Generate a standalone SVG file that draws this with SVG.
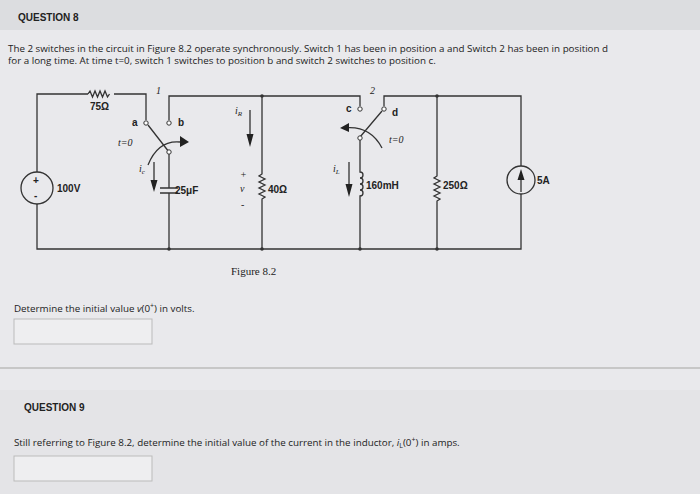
<svg xmlns="http://www.w3.org/2000/svg" width="700" height="494" viewBox="0 0 700 494">
<style>
.w{stroke:#333;stroke-width:1.3;fill:none}
.t{font-family:"Open Sans","Liberation Sans",sans-serif;font-size:9.8px;fill:#222}
.b{font-family:"Liberation Sans",sans-serif;font-size:10px;font-weight:bold;fill:#222}
.s{font-family:"Liberation Serif",serif;font-size:10px;font-style:italic;fill:#222}
.d{fill:#333}
.o{fill:#fff;stroke:#333;stroke-width:1}
.h{fill:#222}
</style>
<rect width="700" height="494" fill="#e9e9ec"/>
<rect x="0" y="0" width="700" height="30" fill="#dcdde0"/>
<text x="18" y="21" class="b" font-size="11">QUESTION 8</text>
<text x="8" y="52" class="t">The 2 switches in the circuit in Figure 8.2 operate synchronously.  Switch 1 has been in position a and Switch 2 has been in position d</text>
<text x="8" y="64" class="t">for a long time.  At time t=0, switch 1 switches to position b and switch 2 switches to position c.</text>
<g id="connectors">
<path class="w" d="M37,172 V94 H88 M114,94 H146 V120 M169,120 V96 H360 V106 M384,106 V96 H521 V166 M521,194 V249 H37 V204"/>
<path class="w" d="M88,94 l2,-3 l2.5,6 l2.5,-6 l2.5,6 l2.5,-6 l2.5,6 l2.5,-6 l2.5,6 l2,-3"/>
<path class="w" d="M169,154 V188 M169,193 V249 M160,188 H178 M160,193 H178"/>
<path class="w" d="M262,96 V174 l-3,2 l6,3 l-6,3 l6,3 l-6,3 l6,3 l-6,3 l6,3 l-3,2 V249"/>
<path class="w" d="M437,96 V176 l-3,2 l6,3 l-6,3 l6,3 l-6,3 l6,3 l-6,3 l6,3 l-3,2 V249"/>
<path class="w" d="M360,140 V172 a3,3 0 0 1 0,6 a3,3 0 0 1 0,6 a3,3 0 0 1 0,6 a3,3 0 0 1 0,6 V249"/>
<path class="w" d="M169,152 L148,125 M360,137 L382,111"/>
<path class="w" d="M148,165 Q158,140 180,142 M344,128 Q370,125 382,148"/>
<path d="M180,136 l9,6 l-9,5z M349,123 l-9,5 l9,4z" class="h"/>
<path class="w" d="M154,162 V182 M250,110 V136 M349,162 V186 M521,192 V178"/>
<path class="h" d="M150.5,180 h7 l-3.5,12z M246.5,134 h7 l-3.5,13z M345.5,184 h7 l-3.5,13z M517.5,180 h7 l-3.5,-11z"/>
</g>
<g id="nodes">
<g id="src100"><circle cx="37" cy="188" r="16" class="w" fill="#fff"/><text x="33" y="184" class="b" font-size="8">+</text><text x="34" y="199" class="b" font-size="8">-</text></g>
<g id="src5"><circle cx="521" cy="180" r="14" class="w"/></g>
<circle class="o" cx="146" cy="123" r="2.2"/><circle class="o" cx="169" cy="123" r="2.2"/><circle class="o" cx="169" cy="152" r="2.2"/>
<circle class="o" cx="360" cy="109" r="2.2"/><circle class="o" cx="384" cy="109" r="2.2"/><circle class="o" cx="360" cy="138" r="2.2"/>
<circle class="d" cx="262" cy="96" r="1.8"/><circle class="d" cx="437" cy="96" r="1.8"/><circle class="d" cx="262" cy="249" r="1.8"/><circle class="d" cx="437" cy="249" r="1.8"/><circle class="d" cx="169" cy="249" r="1.8"/><circle class="d" cx="360" cy="249" r="1.8"/>
</g>
<g id="labels">
<text x="90" y="110" class="b">75Ω</text>
<text x="156" y="94" class="s" font-style="normal">1</text>
<text x="370" y="94" class="s" font-style="normal">2</text>
<text x="132" y="126" class="b" font-family="Liberation Serif">a</text>
<text x="178" y="126" class="b">b</text>
<text x="118" y="146" class="s">t=0</text>
<text x="139" y="172" class="s">i<tspan font-size="7" dy="2">c</tspan></text>
<text x="235" y="114" class="s">i<tspan font-size="7" dy="2">R</tspan></text>
<text x="57" y="192" class="b">100V</text>
<text x="175" y="194" class="b">25μF</text>
<text x="240" y="178" class="s" font-style="normal">+</text>
<text x="240" y="192" class="s">v</text>
<text x="241" y="208" class="s" font-style="normal">-</text>
<text x="268" y="193" class="b">40Ω</text>
<text x="346" y="112" class="b" font-family="Liberation Serif">c</text>
<text x="392" y="116" class="b">d</text>
<text x="389" y="143" class="s">t=0</text>
<text x="333" y="172" class="s">i<tspan font-size="7" dy="2">L</tspan></text>
<text x="366" y="189" class="b">160mH</text>
<text x="443" y="189" class="b">250Ω</text>
<text x="537" y="184" class="b">5A</text>
<text x="231" y="275" font-family="Liberation Serif" font-size="11" fill="#222">Figure 8.2</text>
</g>
<text x="14" y="312" class="t">Determine the initial value <tspan font-style="italic">v</tspan>(0<tspan font-size="7" dy="-4">+</tspan><tspan dy="4">) in volts.</tspan></text>
<rect x="14" y="319" width="138" height="25" fill="#eeeef0" stroke="#bbb"/>
<line x1="0" y1="368" x2="700" y2="368" stroke="#bbb" stroke-width="1.5"/>
<rect x="0" y="390" width="700" height="104" fill="#e4e4e7"/>
<text x="24" y="411" class="b" font-size="11">QUESTION 9</text>
<text x="14" y="446" class="t">Still referring to Figure 8.2, determine the initial value of the current in the inductor, <tspan font-style="italic">i</tspan><tspan font-size="7" dy="2">L</tspan><tspan dy="-2">(0</tspan><tspan font-size="7" dy="-4">+</tspan><tspan dy="4">) in amps.</tspan></text>
<rect x="14" y="456" width="138" height="25" fill="#eeeef0" stroke="#bbb"/>
</svg>
